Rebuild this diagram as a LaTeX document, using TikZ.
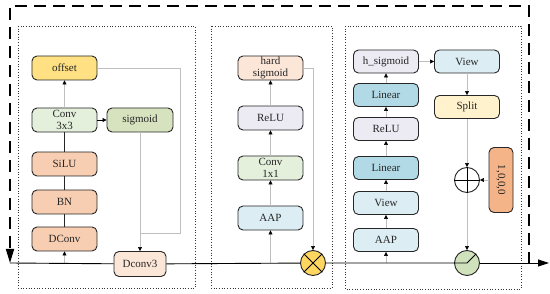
\documentclass[tikz,border=0pt]{standalone}
\usepackage{fontspec}
\setmainfont{Liberation Serif}
\usetikzlibrary{arrows.meta, positioning}
\definecolor{goldbox}{RGB}{255,224,130}
\definecolor{palegreen}{RGB}{228,239,220}
\definecolor{sagegreen}{RGB}{214,227,190}
\definecolor{peachbox}{RGB}{248,206,178}
\definecolor{lightpeach}{RGB}{252,230,215}
\definecolor{lavender}{RGB}{236,234,243}
\definecolor{iceblue}{RGB}{220,238,244}
\definecolor{tealblue}{RGB}{178,218,230}
\definecolor{creamy}{RGB}{255,242,204}
\definecolor{orangebox}{RGB}{245,180,135}
\definecolor{multgold}{RGB}{255,214,95}
\definecolor{switchgreen}{RGB}{208,226,188}

\begin{document}
\begin{tikzpicture}[x=1pt, y=-1pt,
  blk/.style={draw=black!85, line width=0.9pt, rounded corners=5pt,
    minimum width=65pt, minimum height=24pt, inner sep=1pt, align=center,
    text=black!85, font=\fontsize{11}{12}\selectfont},
  link/.style={draw=black!25, line width=0.6pt,
    -{Triangle[length=4pt, width=4pt, color=black]}},
  panel/.style={draw=black!80, dotted, line width=0.7pt},
  op/.style={circle, draw=black!85, line width=0.9pt, minimum size=25pt, inner sep=0pt}]
  \useasboundingbox (0,0) rectangle (550,294);

  % Panels
  \draw[panel] (18,26) rectangle (195,288);
  \draw[panel] (211,26) rectangle (332,288);
  \draw[panel] (345,26) rectangle (521,289);

  % Main path and skip loop
  \coordinate (mstart) at (10,263);
  \coordinate (mend) at (549,263);
  \coordinate (loopr) at (529,264);
  \coordinate (looptr) at (529,6);
  \coordinate (looptl) at (10,6);

  % Panel 1: deformable conv
  \node[blk, fill=goldbox] (offset) at (64.5,68) {offset};
  \node[blk, fill=palegreen] (conv3) at (64.5,120) {Conv\\3x3};
  \node[blk, fill=sagegreen, minimum width=66pt] (sig) at (140,120) {sigmoid};
  \node[blk, fill=peachbox] (silu) at (64.5,164) {SiLU};
  \node[blk, fill=peachbox] (bn) at (64.5,202) {BN};
  \node[blk, fill=peachbox] (dconv) at (64.5,239) {DConv};
  \node[blk, fill=lightpeach, minimum width=52pt, minimum height=25pt] (dconv3) at (140,264) {Dconv3};
  \coordinate (offturn) at (180,233);

  \draw[draw=black!85, line width=0.8pt] (dconv) -- (bn) (bn) -- (silu) (silu) -- (conv3);
  \draw[link] (conv3) -- (offset);
  \draw[line width=0.8pt, -{Triangle[length=4pt, width=4pt]}] (conv3) -- (sig);
  \draw[link] (sig) -- (dconv3);
  \draw[draw=black!25, line width=0.6pt] (offset.east) -| (offturn) -- (offturn -| sig);
  \draw[link] (dconv |- mstart) -- (dconv);

  % Panel 2: attention
  \node[blk, fill=lightpeach] (hsig) at (270.5,68) {hard\\sigmoid};
  \node[blk, fill=lavender] (relu) at (270.5,118) {ReLU};
  \node[blk, fill=palegreen] (conv1) at (270.5,168) {Conv\\1x1};
  \node[blk, fill=iceblue] (aap) at (270.5,218) {AAP};
  \node[op, fill=multgold] (mult) at (313,263) {};
  \draw[line width=0.9pt] (mult.north west) -- (mult.south east) (mult.north east) -- (mult.south west);

  \draw[link] (aap |- mstart) -- (aap);
  \draw[link] (aap) -- (conv1);
  \draw[link] (conv1) -- (relu);
  \draw[link] (relu) -- (hsig);
  \draw[link] (hsig.east) -| (mult.north);

  % Panel 3: dynamic switch
  \node[blk, fill=lavender, minimum height=23pt] (hsigb) at (386,61.5) {h\_sigmoid};
  \node[blk, fill=tealblue, minimum height=23pt] (linb) at (386,95) {Linear};
  \node[blk, fill=lavender, minimum height=23pt] (relub) at (386,129) {ReLU};
  \node[blk, fill=tealblue, minimum height=23pt] (lina) at (386,168) {Linear};
  \node[blk, fill=iceblue, minimum height=23pt] (viewa) at (386,203) {View};
  \node[blk, fill=iceblue, minimum height=23pt] (aapb) at (386,240) {AAP};
  \node[blk, fill=iceblue, minimum height=23pt] (viewb) at (467,61.5) {View};
  \node[blk, fill=creamy, minimum height=23pt] (split) at (467,107) {Split};
  \node[blk, fill=orangebox, rotate=-90] (init) at (501,180) {1,0,0,0};
  \node[op, fill=white] (plus) at (467,180) {};
  \node[op, fill=switchgreen] (switch) at (467,263) {};
  \draw[line width=0.9pt] (plus.north) -- (plus.south) (plus.west) -- (plus.east);

  \draw[link] (aapb |- mstart) -- (aapb);
  \draw[link] (aapb) -- (viewa);
  \draw[link] (viewa) -- (lina);
  \draw[link] (lina) -- (relub);
  \draw[link] (relub) -- (linb);
  \draw[link] (linb) -- (hsigb);
  \draw[link] (hsigb) -- (viewb);
  \draw[link] (viewb) -- (split);
  \draw[link] (split) -- (plus);
  \draw[link] (init) -- (plus);
  \draw[link] (plus) -- (switch);

  % Main line
  \draw[line width=0.9pt] (mstart) -- (dconv3) (dconv3) -- (mult) (mult) -- (switch.west)
    -- (switch.center) -- (switch.north east);
  \draw[line width=0.9pt, -{Triangle[length=11pt, width=7pt]}] (switch.east) -- (mend);

  % Skip loop
  \draw[line width=1.6pt, dash pattern=on 12pt off 7pt, -{Triangle[length=14pt, width=8pt]}]
    (loopr) -- (looptr) -- (looptl) -- (mstart);
\end{tikzpicture}
\end{document}
